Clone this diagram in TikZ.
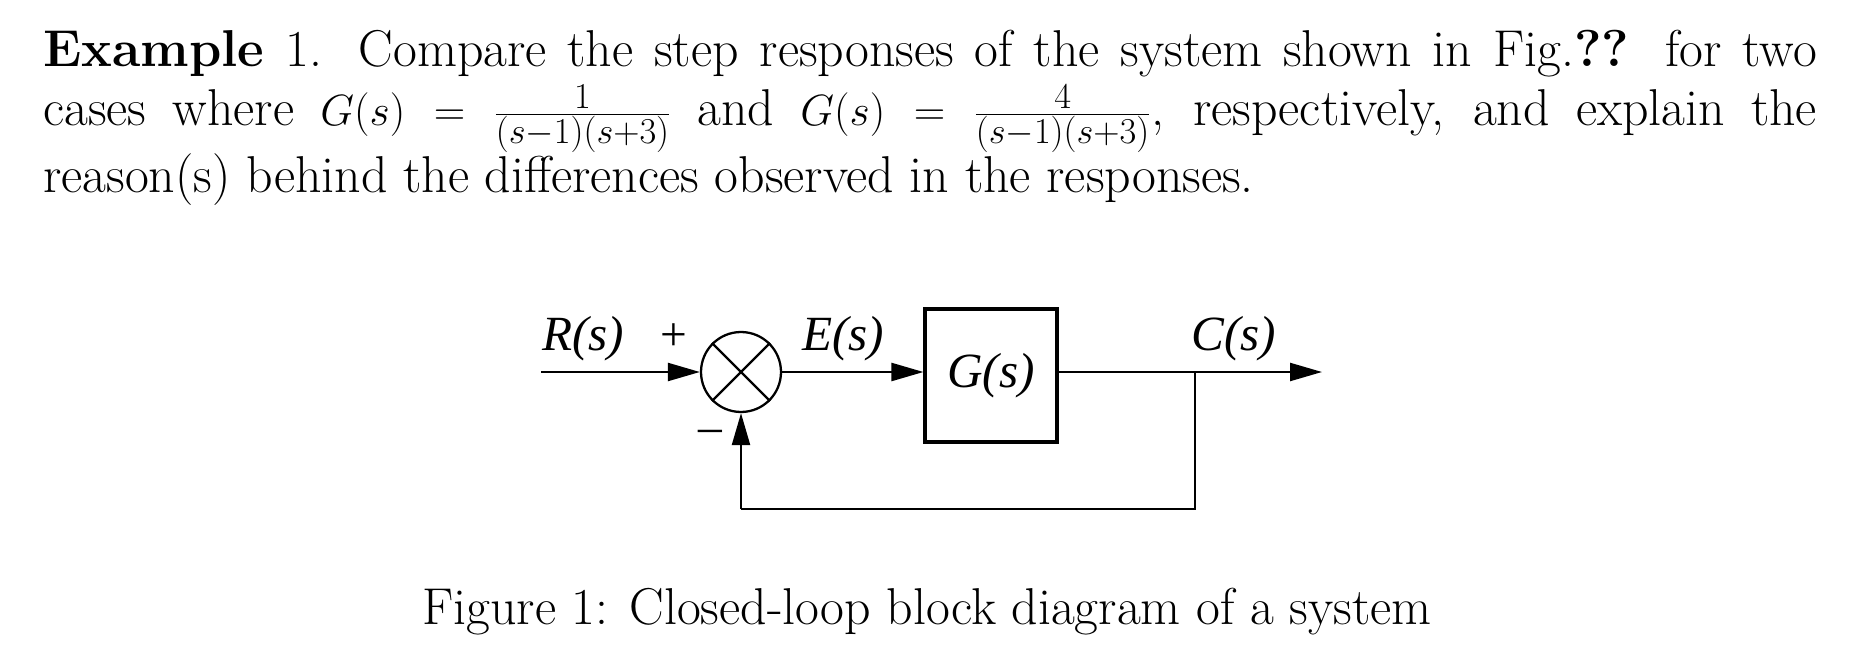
\documentclass[tikz,border=0pt]{standalone}
\usepackage{fontspec}
\newfontfamily\tms{Liberation Serif}
\newfontfamily\tmsit{Liberation Serif Italic}
\usetikzlibrary{arrows.meta}
\begin{document}
\begin{tikzpicture}[x=0.02cm,y=-0.02cm,
  body/.style={inner sep=0pt,font=\fontsize{29.5}{33.6}\selectfont},
  lab/.style={inner sep=0pt,font=\fontsize{27}{30}\selectfont\tms},
  ilab/.style={inner sep=0pt,font=\fontsize{28}{30}\selectfont\tmsit},
  ln/.style={line width=1.3pt},
  arr/.style={ln,-{Triangle[length=0.64cm,width=0.36cm]}}]
\useasboundingbox (0,0) rectangle (1864,652);
\node[body,anchor=north west,text width=35.48cm,align=justify] (txt) at (43,30)
{\textbf{Example} 1. Compare the step responses of the system shown in Fig.\textbf{??} for two\linebreak
cases where $G(s)=\frac{1}{(s-1)(s+3)}$ and $G(s)=\frac{4}{(s-1)(s+3)}$, respectively, and explain the\linebreak
reason(s) behind the differences observed in the responses.};
\coordinate (in) at (541,372);
\node[draw,ln,circle,minimum size=1.6cm,inner sep=0pt] (sum) at (741,372) {};
\draw[ln] (sum.45) -- (sum.225) (sum.135) -- (sum.315);
\node[draw,line width=1.8pt,minimum width=2.64cm,minimum height=2.66cm,inner sep=0pt] (G) at (991,375.5) {};
\node[ilab] (gl) at (G.center) {G(s)};
\coordinate (br) at (1195,372);
\coordinate (out) at (1322,372);
\coordinate (fb) at (1195,509);
\coordinate (fb2) at (741,509);
\draw[arr] (in) -- (sum);
\draw[arr] (sum) -- (G.west|-sum);
\draw[ln] (G.east|-sum) -- (br);
\draw[arr] (br) -- (out);
\draw[ln] (br) -- (fb) -- (fb2);
\draw[arr] (fb2) -- (sum.south);
\node[ilab] (R) at (583,339) {R(s)};
\node[lab] (plus) at (674,337) {+};
\node[lab] (minus) at (710,436) {\textendash};
\node[ilab] (E) at (843,339) {E(s)};
\node[ilab] (C) at (1234,339) {C(s)};
\node[body] (cap) at (927,612) {Figure 1: Closed-loop block diagram of a system};
\end{tikzpicture}
\end{document}
